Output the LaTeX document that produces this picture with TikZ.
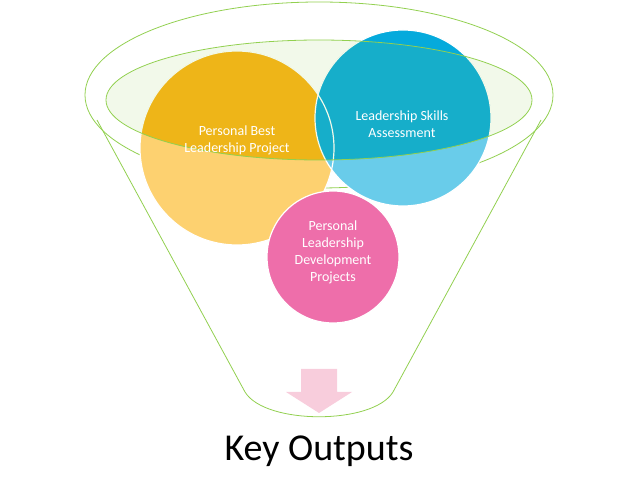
\documentclass[tikz,border=0pt]{standalone}
\usepackage{fontspec}
\setmainfont{Carlito}
\definecolor{fgreen}{RGB}{146,208,80}
\definecolor{corange}{RGB}{251,178,17}
\definecolor{cblue}{RGB}{5,170,220}
\definecolor{cpink}{RGB}{238,110,170}
\definecolor{apink}{RGB}{248,205,220}
\tikzset{circ/.style={draw=white,line width=1.2pt},lbl/.style={text=white,font=\fontsize{14}{17}\selectfont,align=center}}
\begin{document}
\begin{tikzpicture}[x=1pt,y=-1pt]
\useasboundingbox (0,0) rectangle (638,478);
\draw[fgreen,line width=0.8pt] (319,95) ellipse (234 and 93);
\draw[fgreen,line width=0.8pt] (97,120) -- (245,392) .. controls (265,425) and (373,425) .. (393,392) -- (541,120);
\fill[corange!60] (237,148) circle (97);
\fill[cblue!60] (403,118) circle (88);
\begin{scope}
\clip (0,0) rectangle (638,100);
\fill[corange] (237,148) circle (97);
\fill[cblue] (403,118) circle (88);
\end{scope}
\begin{scope}
\clip (319,100) ellipse (213 and 60);
\fill[corange] (237,148) circle (97);
\fill[cblue] (403,118) circle (88);
\end{scope}
\draw[circ] (237,148) circle (97);
\draw[circ] (403,118) circle (88);
\fill[cpink] (333,257) circle (66);
\draw[circ] (333,257) circle (66);
\filldraw[fill=fgreen,fill opacity=0.12,draw=fgreen,line width=0.8pt] (319,100) ellipse (213 and 60);
\node[lbl] (a) at (237,140) {Personal Best\\Leadership Project};
\node[lbl] (b) at (402,124) {Leadership Skills\\Assessment};
\node[lbl] (c) at (333,252) {Personal\\Leadership\\Development\\Projects};
\fill[apink] (301,369) -- (337,369) -- (337,392) -- (352,392) -- (319,413) -- (286,392) -- (301,392) -- cycle;
\node[font=\fontsize{38}{44}\selectfont] (k) at (319,451) {Key Outputs};
\end{tikzpicture}
\end{document}
